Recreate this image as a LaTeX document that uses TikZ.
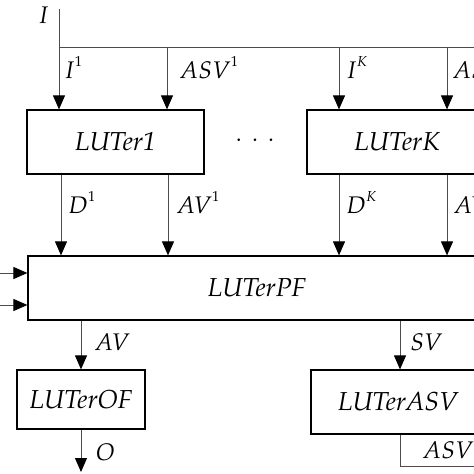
\documentclass[tikz,border=0pt]{standalone}
\usepackage[T1]{fontenc}
\usepackage{mathpazo}
\usetikzlibrary{arrows.meta}
\newcommand{\hsup}[1]{^{\raisebox{3pt}{$\scriptscriptstyle #1$}}}
\begin{document}
\begin{tikzpicture}[x=1pt,y=-1pt,
  blk/.style={draw=black,line width=1.2pt,fill=white,inner sep=0pt,font=\fontsize{26}{30}\selectfont\itshape},
  sig/.style={draw=black!70,line width=0.9pt},
  arr/.style={sig,-{Triangle[width=12pt,length=14pt,black]}},
  lab/.style={anchor=base west,inner sep=0pt,font=\fontsize{24}{28}\selectfont}]
\useasboundingbox (0,0) rectangle (474,474);
% blocks
\node[blk,minimum width=177pt,minimum height=64pt] (L1) at (115.5,142) {LUTer1};
\node[blk,minimum width=180pt,minimum height=64pt] (LK) at (397,142) {LUTerK};
\node[blk,minimum width=458pt,minimum height=64pt] (PF) at (257,288) {LUTerPF};
\node[blk,minimum width=128pt,minimum height=59pt] (OF) at (81,399.5) {LUTerOF};
\node[blk,minimum width=174pt,minimum height=64pt] (ASV) at (398,402) {LUTerASV};
\node[inner sep=0pt,font=\fontsize{24}{28}\selectfont] (dots) at (255,141) {$\cdot\,\cdot\,\cdot$};
% input bus
\coordinate (Itop) at (59,9);
\coordinate (Bus) at (59,47);
\coordinate (BusR) at (480,47);
\draw[sig] (Itop) -- (Bus) -- (BusR);
\node[lab] (Ilab) at (38,23) {$I$};
\draw[arr] (59,47) -- (L1.north -| 59,0);
\draw[arr] (167,47) -- (L1.north -| 167,0);
\draw[arr] (339,47) -- (LK.north -| 339,0);
\draw[arr] (447,47) -- (LK.north -| 447,0);
\node[lab] (i1) at (64,78) {$I\hsup{1}$};
\node[lab] (a1) at (179,78) {$ASV\hsup{1}$};
\node[lab] (ik) at (346,78) {$I\hsup{K}$};
\node[lab] (ak) at (452,78) {$ASV\hsup{K}$};
% to PF
\draw[arr] (L1.south -| 61,0) -- (PF.north -| 61,0);
\draw[arr] (L1.south -| 168,0) -- (PF.north -| 168,0);
\draw[arr] (LK.south -| 339,0) -- (PF.north -| 339,0);
\draw[arr] (LK.south -| 447,0) -- (PF.north -| 447,0);
\node[lab] (d1) at (68,213) {$D\hsup{1}$};
\node[lab] (av1) at (176,213) {$AV\hsup{1}$};
\node[lab] (dk) at (346,213) {$D\hsup{K}$};
\node[lab] (avk) at (453,213) {$AV\hsup{K}$};
% left inputs
\coordinate (in1) at (0,273);
\coordinate (in2) at (0,305);
\draw[arr] (in1) -- (PF.west |- in1);
\draw[arr] (in2) -- (PF.west |- in2);
% outputs
\draw[arr] (PF.south -| 81,0) -- (OF.north -| 81,0);
\draw[arr] (PF.south -| 400,0) -- (ASV.north -| 400,0);
\node[lab] (av) at (94,350) {$AV$};
\node[lab] (sv) at (410,350) {$SV$};
\coordinate (Oend) at (81,472);
\draw[arr] (OF.south -| 81,0) -- (Oend);
\node[lab] (o) at (96,460) {$O$};
\coordinate (fb1) at (400,466);
\coordinate (fb2) at (480,466);
\draw[sig] (ASV.south -| 400,0) -- (fb1) -- (fb2);
\node[lab] (asvo) at (422,458) {$ASV$};
\end{tikzpicture}
\end{document}
